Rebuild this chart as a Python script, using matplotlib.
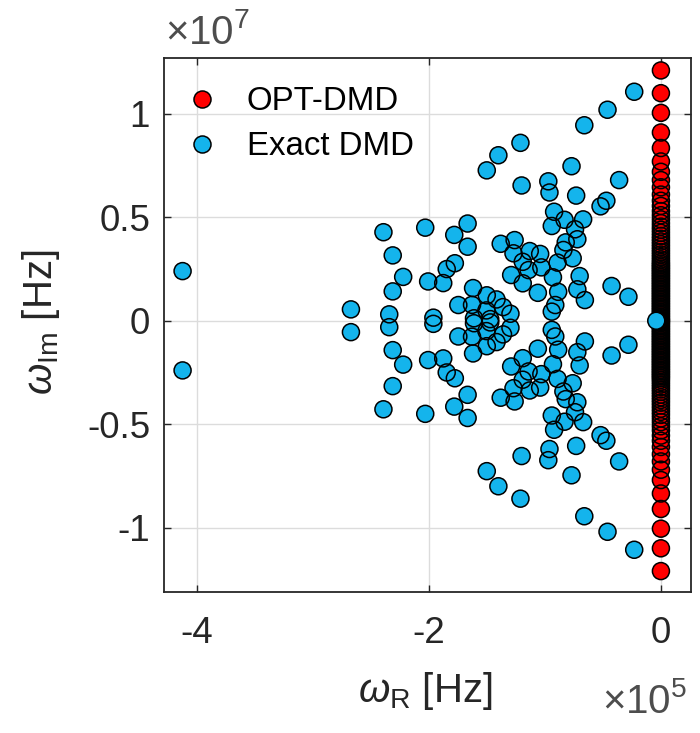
import matplotlib
matplotlib.use("Agg")
import matplotlib.pyplot as plt
from matplotlib.lines import Line2D
import numpy as np

plt.rcParams["font.family"] = ["Liberation Sans", "DejaVu Sans"]
plt.rcParams["mathtext.fontset"] = "custom"
plt.rcParams["mathtext.rm"] = "Liberation Sans"
plt.rcParams["mathtext.it"] = "Liberation Sans:italic"
plt.rcParams["axes.unicode_minus"] = False

# Exact DMD eigenvalues in the upper half plane
# (real part in units of 1e5 Hz, imaginary part in units of 1e7 Hz).
# They come in conjugate pairs, the lower half is the mirror image.
exact_re_upper = [
    -4.12, -2.67,
    -0.23, -0.46, -0.66, -1.21, -1.40, -1.50, -0.77, -1.20, -0.97, -0.36,
    -0.96, -0.73, -0.47, -0.52, -0.92, -0.83, -0.67, -0.94, -0.74, -0.72,
    -1.38, -1.26, -1.13, -1.04, -1.27, -0.82, -0.84, -0.76, -0.89, -1.19,
    -1.03, -1.14, -1.29, -0.93, -0.70, -1.19, -1.06, -0.885, -0.72, -0.655,
    -0.91, -0.94, -0.425, -0.28,
    -2.39, -2.03, -1.78, -1.665, -1.665, -2.31, -2.22, -2.31, -2.005, -1.875,
    -1.845, -1.775, -2.34, -1.96, -1.745,
    -1.618, -1.50, -1.416, -1.627, -1.503, -1.36, -1.296, -1.61, -1.47,
]
exact_im_upper = [
    0.24, 0.055,
    1.107, 1.02, 0.945, 0.86, 0.80, 0.727, 0.747, 0.654, 0.674, 0.68,
    0.62, 0.605, 0.58, 0.553, 0.527, 0.488, 0.49, 0.458, 0.442, 0.394,
    0.372, 0.39, 0.337, 0.323, 0.326, 0.379, 0.342, 0.302, 0.281, 0.285,
    0.258, 0.245, 0.221, 0.21, 0.216, 0.181, 0.135, 0.14, 0.152, 0.10,
    0.076, 0.044, 0.168, 0.116,
    0.428, 0.45, 0.415, 0.47, 0.358, 0.316, 0.212, 0.142, 0.19, 0.182,
    0.25, 0.278, 0.031, 0.015, 0.076,
    0.158, 0.123, 0.103, 0.077, 0.05, 0.066, 0.034, 0.012, 0.008,
]
# single real eigenvalue
exact_re_axis = [-0.04]
exact_im_axis = [0.0]

# OPT-DMD eigenvalues, all with real part close to zero (upper half, 1e7 Hz)
opt_im_upper = [
    1.21, 1.10, 1.005, 0.91, 0.835, 0.77, 0.72, 0.68, 0.645, 0.61,
    0.58, 0.555, 0.53, 0.51, 0.49, 0.472, 0.455, 0.44, 0.425, 0.41,
    0.396, 0.383, 0.37, 0.357, 0.344, 0.332, 0.32, 0.308, 0.296, 0.285,
    0.276, 0.268, 0.26, 0.252, 0.244, 0.236, 0.228, 0.22, 0.212, 0.204,
    0.196, 0.188, 0.18, 0.172, 0.164, 0.156, 0.148, 0.14, 0.132, 0.124,
    0.116, 0.108, 0.1, 0.092, 0.084, 0.076, 0.068, 0.06, 0.052, 0.044,
    0.036, 0.028, 0.02, 0.012, 0.005,
]
opt_re_value = 0.0

exact_re = np.concatenate([exact_re_upper, exact_re_upper, exact_re_axis])
exact_im = np.concatenate([exact_im_upper, np.negative(exact_im_upper), exact_im_axis])
opt_im = np.concatenate([opt_im_upper, [0.0], np.negative(opt_im_upper)])
opt_re = np.full(len(opt_im), opt_re_value)

opt_color = "#ff0000"
exact_color = "#14b4ec"
tick_size = 26.5
label_size = 29
legend_size = 23.8
text_color = "#262626"
marker_area = 150
edge_width = 1.1

fig = plt.figure(figsize=(7.0, 7.33), dpi=100)
ax = fig.add_axes([0.2343, 0.1924, 0.753, 0.729])

# MATLAB renders all marker faces of a series first and the edges on top,
# which is why the dense OPT-DMD column looks almost black
for re, im, col, z in [(opt_re, opt_im, opt_color, 3),
                       (exact_re, exact_im, exact_color, 5)]:
    ax.scatter(re, im, s=marker_area, c=col, edgecolors="none", zorder=z)
    ax.scatter(re, im, s=marker_area, facecolors="none", edgecolors="black",
               linewidths=edge_width, zorder=z + 1)

ax.set_xlim(-4.28, 0.26)
ax.set_ylim(-1.311, 1.272)
ax.set_xticks([-4, -2, 0])
ax.set_yticks([-1, -0.5, 0, 0.5, 1])
ax.set_xticklabels(["-4", "-2", "0"])
ax.set_yticklabels(["-1", "-0.5", "0", "0.5", "1"])

ax.grid(True, color="#dcdcdc", linewidth=1.0)
ax.set_axisbelow(True)
for side in ax.spines.values():
    side.set_linewidth(1.3)
    side.set_color(text_color)
ax.tick_params(direction="in", length=5, width=1, top=True, right=True,
               labelsize=tick_size, colors=text_color)
ax.tick_params(axis="x", pad=17)
ax.tick_params(axis="y", pad=10)

# axis labels placed in figure coordinates
fig.text(425 / 700, 1 - 670 / 733, r"$\omega_{\mathrm{R}}$ [Hz]",
         fontsize=label_size, color=text_color, ha="center", va="top")
fig.text(20 / 700, 1 - 322 / 733, r"$\omega_{\mathrm{Im}}$ [Hz]",
         fontsize=label_size, color=text_color, ha="left", va="center",
         rotation=90)

# exponent markers in MATLAB style
fig.text(165 / 700, 1 - 44 / 733, r"$\times\mathregular{10^{7}}$",
         fontsize=label_size, color="#4d4d4d", ha="left", va="baseline")
fig.text(602 / 700, 1 - 713 / 733, r"$\times\mathregular{10^{5}}$",
         fontsize=label_size, color="#4d4d4d", ha="left", va="baseline")

handles = [
    Line2D([], [], linestyle="none", marker="o", markersize=np.sqrt(marker_area),
           markerfacecolor=opt_color, markeredgecolor="black",
           markeredgewidth=edge_width, label="OPT-DMD"),
    Line2D([], [], linestyle="none", marker="o", markersize=np.sqrt(marker_area),
           markerfacecolor=exact_color, markeredgecolor="black",
           markeredgewidth=edge_width, label="Exact DMD"),
]
ax.legend(handles=handles, loc="upper left", bbox_to_anchor=(0.2414, 0.882),
          bbox_transform=fig.transFigure, frameon=False, fontsize=legend_size,
          handlelength=2.0, handletextpad=0.35, labelspacing=0.42,
          borderpad=0, borderaxespad=0)

fig.savefig("out.png", dpi=100)
